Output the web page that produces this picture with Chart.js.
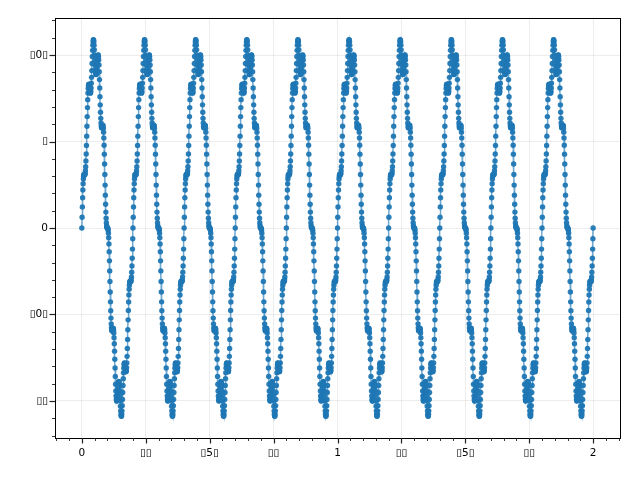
<!DOCTYPE html>
<html>
<head>
<meta charset="utf-8">
<script src="https://cdn.jsdelivr.net/npm/chart.js@4"></script>
<style>
  html, body { margin: 0; padding: 0; background: #fff; }
  #c { display: block; }
</style>
</head>
<body>
<canvas id="c" width="640" height="480"></canvas>
<script>
// one cycle of the signal (200 samples); the chart repeats it 10 times
const cycleValues = [
  0.000, 0.062, 0.122, 0.175, 0.220, 0.256, 0.283, 0.299, 0.308, 0.310,
  0.309, 0.308, 0.309, 0.316, 0.331, 0.354, 0.387, 0.428, 0.477, 0.531,
  0.588, 0.644, 0.696, 0.742, 0.780, 0.807, 0.824, 0.831, 0.829, 0.821,
  0.809, 0.796, 0.786, 0.780, 0.781, 0.791, 0.810, 0.837, 0.871, 0.910,
  0.951, 0.991, 1.027, 1.057, 1.077, 1.088, 1.087, 1.077, 1.057, 1.030,
  1.000, 0.969, 0.939, 0.915, 0.897, 0.888, 0.887, 0.895, 0.910, 0.929,
  0.951, 0.972, 0.989, 0.999, 1.000, 0.991, 0.971, 0.942, 0.903, 0.858,
  0.809, 0.759, 0.712, 0.669, 0.634, 0.607, 0.590, 0.580, 0.579, 0.582,
  0.588, 0.593, 0.595, 0.590, 0.577, 0.554, 0.521, 0.478, 0.427, 0.370,
  0.309, 0.248, 0.190, 0.137, 0.092, 0.056, 0.030, 0.013, 0.004, 0.001,
  0.000, -0.001, -0.004, -0.013, -0.030, -0.056, -0.092, -0.137, -0.190, -0.248,
  -0.309, -0.370, -0.427, -0.478, -0.521, -0.554, -0.577, -0.590, -0.595, -0.593,
  -0.588, -0.582, -0.579, -0.580, -0.590, -0.607, -0.634, -0.669, -0.712, -0.759,
  -0.809, -0.858, -0.903, -0.942, -0.971, -0.991, -1.000, -0.999, -0.989, -0.972,
  -0.951, -0.929, -0.910, -0.895, -0.887, -0.888, -0.897, -0.915, -0.939, -0.969,
  -1.000, -1.030, -1.057, -1.077, -1.087, -1.088, -1.077, -1.057, -1.027, -0.991,
  -0.951, -0.910, -0.871, -0.837, -0.810, -0.791, -0.781, -0.780, -0.786, -0.796,
  -0.809, -0.821, -0.829, -0.831, -0.824, -0.807, -0.780, -0.742, -0.696, -0.644,
  -0.588, -0.531, -0.477, -0.428, -0.387, -0.354, -0.331, -0.316, -0.309, -0.308,
  -0.309, -0.310, -0.308, -0.299, -0.283, -0.256, -0.220, -0.175, -0.122, -0.062
];
const cycleCount = 10;
const sampleStep = 0.001;

const xTicks = [0, 0.25, 0.5, 0.75, 1, 1.25, 1.5, 1.75, 2];
const xTickLabels = ['0', '\u25AF\u25AF', '\u25AF5\u25AF', '\u25AF\u25AF', '1', '\u25AF\u25AF', '\u25AF5\u25AF', '\u25AF\u25AF', '2'];
const yTicks = [-1, -0.5, 0, 0.5, 1];
const yTickLabels = ['\u25AF\u25AF', '\u25AF0\u25AF', '0', '\u25AF', '\u25AF0\u25AF'];
const xMinorStep = 0.05;
const yMinorStep = 0.1;

// build the point list
const points = [];
for (let c = 0; c < cycleCount; c++) {
  for (let k = 0; k < cycleValues.length; k++) {
    points.push({ x: (c * cycleValues.length + k) * sampleStep, y: cycleValues[k] });
  }
}
points.push({ x: cycleCount * cycleValues.length * sampleStep, y: cycleValues[0] });

// frame + major/minor tick marks, like the original axes
const axesDecor = {
  id: 'axesDecor',
  afterDraw(chart) {
    const ctx = chart.ctx;
    const a = chart.chartArea;
    const xs = chart.scales.x, ys = chart.scales.y;
    ctx.save();
    ctx.strokeStyle = '#000';
    ctx.lineWidth = 1;
    ctx.strokeRect(Math.round(a.left) + 0.5, Math.round(a.top) + 0.5,
                   Math.round(a.right - a.left), Math.round(a.bottom - a.top));

    ctx.strokeStyle = '#222';
    // x ticks (major every 5th)
    const xStart = Math.ceil(xs.min / xMinorStep), xEnd = Math.floor(xs.max / xMinorStep);
    for (let i = xStart; i <= xEnd; i++) {
      const px = Math.round(xs.getPixelForValue(i * xMinorStep)) + 0.5;
      const major = i % 5 === 0;
      ctx.lineWidth = major ? 1.2 : 0.9;
      ctx.beginPath();
      ctx.moveTo(px, a.bottom);
      ctx.lineTo(px, a.bottom + (major ? 5.5 : 3));
      ctx.stroke();
    }
    // y ticks (major every 5th)
    const yStart = Math.ceil(ys.min / yMinorStep - 1e-6), yEnd = Math.floor(ys.max / yMinorStep + 1e-6);
    for (let i = yStart; i <= yEnd; i++) {
      const py = Math.round(ys.getPixelForValue(i * yMinorStep)) + 0.5;
      const major = i % 5 === 0;
      ctx.lineWidth = major ? 1.2 : 0.9;
      ctx.beginPath();
      ctx.moveTo(a.left, py);
      ctx.lineTo(a.left - (major ? 5.5 : 3), py);
      ctx.stroke();
    }
    ctx.restore();
  }
};

new Chart(document.getElementById('c'), {
  type: 'scatter',
  data: {
    datasets: [{
      data: points,
      showLine: true,
      borderColor: 'rgba(31, 119, 180, 0.65)',
      borderWidth: 1.5,
      pointRadius: 2.7,
      pointBorderWidth: 0,
      pointBackgroundColor: 'rgba(31, 119, 180, 0.95)',
      pointHoverRadius: 2.7
    }]
  },
  options: {
    responsive: false,
    animation: false,
    devicePixelRatio: 1,
    layout: { padding: { top: 18, right: 20, left: 0, bottom: 0 } },
    plugins: { legend: { display: false }, tooltip: { enabled: false } },
    scales: {
      x: {
        type: 'linear',
        min: -0.105,
        max: 2.105,
        afterBuildTicks: s => { s.ticks = xTicks.map(v => ({ value: v })); },
        afterFit: s => { s.height = 42; },
        grid: { color: 'rgba(0,0,0,0.07)', drawTicks: false },
        border: { display: false },
        ticks: {
          padding: 9,
          maxRotation: 0,
          color: '#000',
          font: { family: 'DejaVu Sans', size: 10.5 },
          callback: (v, i) => xTickLabels[i]
        }
      },
      y: {
        type: 'linear',
        min: -1.214,
        max: 1.214,
        afterBuildTicks: s => { s.ticks = yTicks.map(v => ({ value: v })); },
        afterFit: s => { s.width = 55; },
        grid: { color: 'rgba(0,0,0,0.07)', drawTicks: false },
        border: { display: false },
        ticks: {
          padding: 7,
          color: '#000',
          font: { family: 'DejaVu Sans', size: 10.5 },
          callback: (v, i) => yTickLabels[i]
        }
      }
    }
  },
  plugins: [axesDecor]
});
</script>
</body>
</html>
